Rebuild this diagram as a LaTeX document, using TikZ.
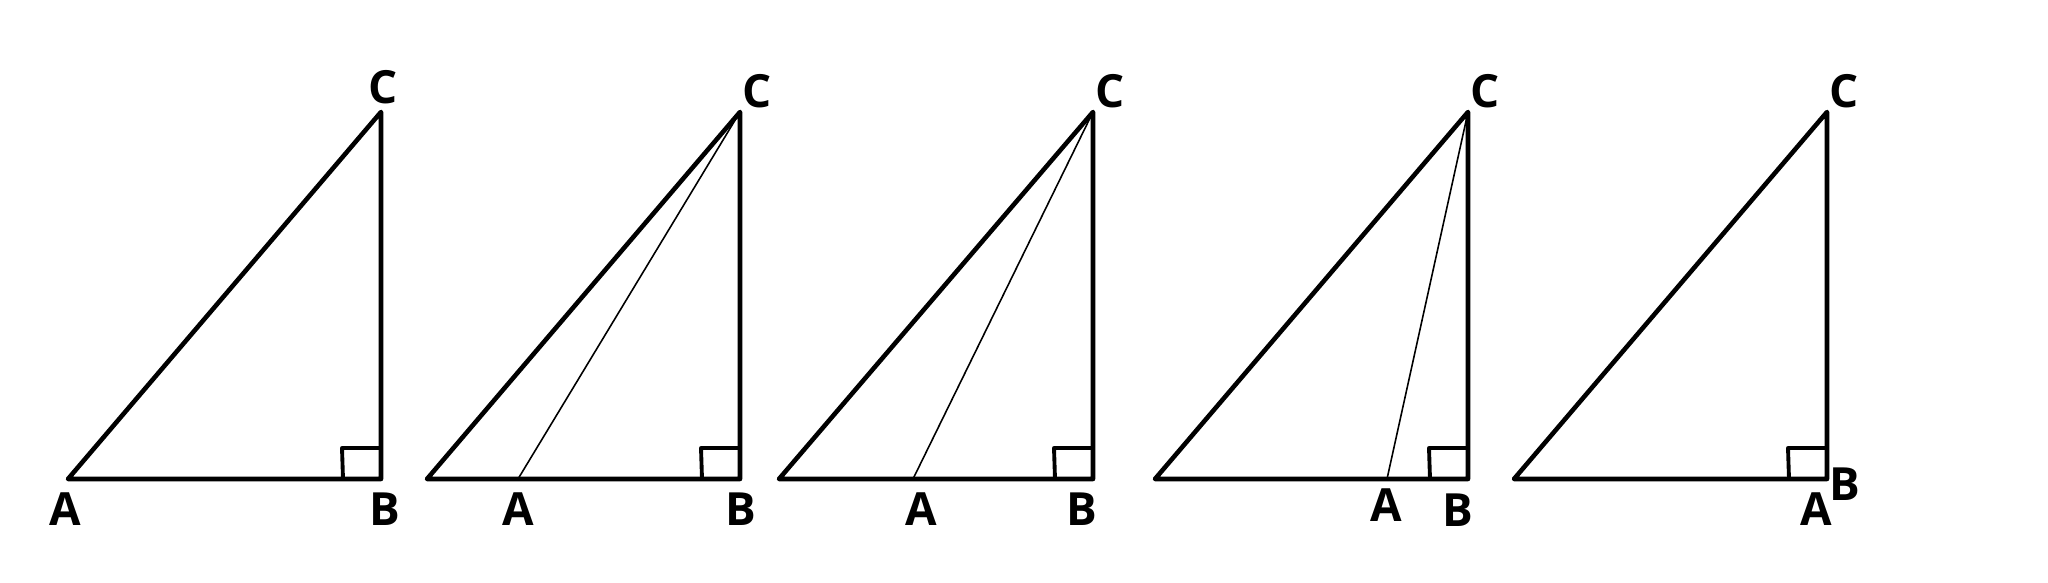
\documentclass[tikz,border=0pt]{standalone}
\usepackage{fontspec}
\setmainfont{Open Sans}
\tikzstyle{side}=[line width=1.3pt,line cap=round,line join=round]
\tikzstyle{rightangle}=[line width=1.1pt,line join=round]
\tikzstyle{cevian}=[line width=0.45pt]
\tikzstyle{vertex}=[font=\fontsize{13}{15}\selectfont\bfseries,inner sep=0pt]

\begin{document}
\begin{tikzpicture}[x=0.01cm,y=-0.01cm]
            \useasboundingbox (0,0) rectangle (2048,583);

            % FIRST triangle

            \coordinate (l1) at (68,479);
            \coordinate (b1) at (381,479);
            \coordinate (c1) at (381,112);
            \node[vertex] (A1) at (65,509) {A};
            \node[vertex] (B1) at (385,509) {B};
            \node[vertex] (C1) at (383,87) {C};

            \draw[side] (l1) -- (b1) -- (c1) -- cycle;
            \draw[rightangle] (b1) ++(-38,0) -- ++(-1,-31) -- ++(39,0);

            % SECOND triangle

            \coordinate (l2) at (427,479);
            \coordinate (b2) at (740,479);
            \coordinate (c2) at (740,112);
            \coordinate (a2) at (518,479);
            \node[vertex] (A2) at (518,509) {A};
            \node[vertex] (B2) at (741,509) {B};
            \node[vertex] (C2) at (757,91) {C};

            \draw[side] (l2) -- (b2) -- (c2) -- cycle;
            \draw[rightangle] (b2) ++(-38,0) -- ++(-1,-31) -- ++(39,0);
            \draw[cevian] (a2) -- (c2);

            % THIRD triangle

            \coordinate (l3) at (779,479);
            \coordinate (b3) at (1093,479);
            \coordinate (c3) at (1093,112);
            \coordinate (a3) at (913,479);
            \node[vertex] (A3) at (921,509) {A};
            \node[vertex] (B3) at (1082,509) {B};
            \node[vertex] (C3) at (1110,91) {C};

            \draw[side] (l3) -- (b3) -- (c3) -- cycle;
            \draw[rightangle] (b3) ++(-38,0) -- ++(-1,-31) -- ++(39,0);
            \draw[cevian] (a3) -- (c3);

            % FOURTH triangle

            \coordinate (l4) at (1155,479);
            \coordinate (b4) at (1468,479);
            \coordinate (c4) at (1468,112);
            \coordinate (a4) at (1387,479);
            \node[vertex] (A4) at (1386,505) {A};
            \node[vertex] (B4) at (1458,510) {B};
            \node[vertex] (C4) at (1485,91) {C};

            \draw[side] (l4) -- (b4) -- (c4) -- cycle;
            \draw[rightangle] (b4) ++(-38,0) -- ++(-1,-31) -- ++(39,0);
            \draw[cevian] (a4) -- (c4);

            % FIFTH triangle

            \coordinate (l5) at (1514,479);
            \coordinate (b5) at (1827,479);
            \coordinate (c5) at (1827,112);
            \node[vertex] (A5) at (1816,509) {A};
            \node[vertex] (B5) at (1845,484) {B};
            \node[vertex] (C5) at (1844,91) {C};

            \draw[side] (l5) -- (b5) -- (c5) -- cycle;
            \draw[rightangle] (b5) ++(-38,0) -- ++(-1,-31) -- ++(39,0);

\end{tikzpicture}
\end{document}
